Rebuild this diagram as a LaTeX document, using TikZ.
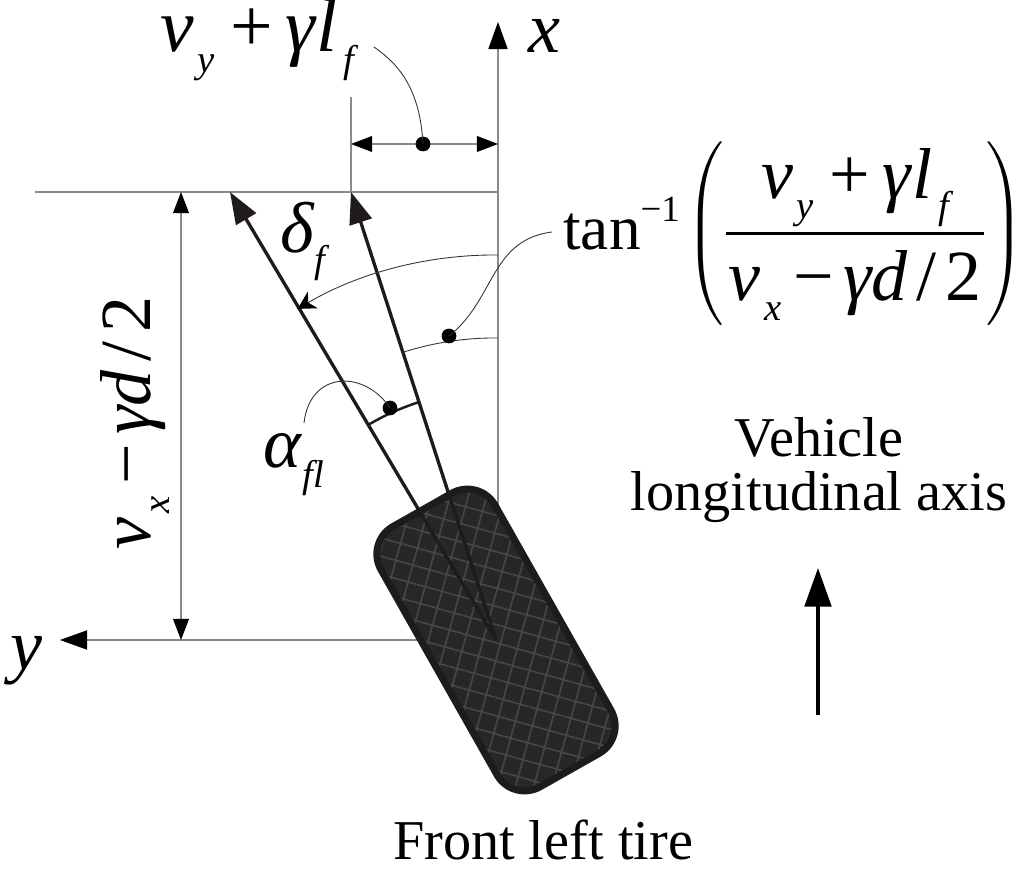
\documentclass[tikz,border=0pt]{standalone}
\usepackage{amsmath}
\usepackage{xcolor}
\usepackage{fontspec}
\setmainfont{Liberation Serif}
\usepackage{tikz}
\usetikzlibrary{arrows.meta,patterns.meta}

\definecolor{thinline}{HTML}{8A8A8A}
\definecolor{inkline}{HTML}{1F1B1C}
\definecolor{tirefill}{HTML}{262827}
\definecolor{tiregrid}{HTML}{45474A}

\newcommand{\subtxt}[1]{\raisebox{-0.6ex}{\fontsize{22}{22}\selectfont\itshape #1}}
\newcommand{\vsum}{\textit{v}\kern2pt\subtxt{y}\kern9pt+\kern7pt\textit{γ\kern1pt l}\kern3pt\subtxt{f}}
\newcommand{\vdiff}{\textit{v}\kern2pt\subtxt{x}\kern7pt−\kern5pt\textit{γd}\kern5pt/\kern5pt2}

\tikzset{
    thinpart/.style={thinline,line width=0.7pt},
    leader/.style={black!80,line width=0.5pt},
    thickarrow/.style={inkline,line width=1.9pt,-{Triangle[length=18pt,width=13pt]}},
    axisarrow/.style={thinpart,-{Triangle[length=15.5pt,width=11pt,black]}},
    dimarrow/.style={thinpart,{Triangle[length=12pt,width=9pt,black]}-{Triangle[length=12pt,width=9pt,black]}},
    label/.style={inner sep=0pt,font=\fontsize{32}{31}\selectfont},
    biglabel/.style={inner sep=0pt,font=\fontsize{41}{41}\selectfont},
    tirebox/.style={draw=inkline,line width=4pt,rounded corners=18pt,rotate=29.5,minimum width=2.62cm,minimum height=5.98cm,
        preaction={fill=tirefill},pattern={Hatch[angle=74.5,distance=10pt,line width=0.9pt]},pattern color=tiregrid},
}

\begin{document}
\begin{tikzpicture}
            \useasboundingbox (0,0) rectangle (20.48,17.4);

            \coordinate (tirecenter) at (9.92,4.6);
            \coordinate (topleft) at (0.7,13.56);
            \coordinate (topright) at (9.96,13.56);
            \coordinate (xbottom) at (9.96,7.3);
            \coordinate (xtip) at (9.96,16.96);
            \coordinate (ytip) at (1.2,4.6);
            \coordinate (yend) at (8.4,4.6);
            \coordinate (ticktop) at (7.02,15.46);
            \coordinate (headingtip) at (4.6,13.56);
            \coordinate (wheeltip) at (7.02,13.56);
            \coordinate (dimleft) at (7.02,14.52);
            \coordinate (dimright) at (9.96,14.52);
            \coordinate (dimtop) at (3.62,13.56);
            \coordinate (dimbottom) at (3.62,4.6);
            \coordinate (sumdot) at (8.46,14.52);
            \coordinate (tandot) at (8.98,10.68);
            \coordinate (alphadot) at (7.8,9.24);

            % axes and dimension lines
            \draw[thinpart] (topleft) -- (topright);
            \draw[axisarrow] (xbottom) -- (xtip);
            \draw[axisarrow] (yend) -- (ytip);
            \draw[thinpart] (ticktop) -- (wheeltip);
            \draw[dimarrow] (dimleft) -- (dimright);
            \draw[dimarrow] (dimtop) -- (dimbottom);

            % tire
            \node[tirebox] (tire) at (tirecenter) {};
            \draw[thickarrow] (tirecenter) -- (headingtip);
            \draw[thickarrow] (tirecenter) -- (wheeltip);

            % angle arcs
            \draw[leader,-{Stealth[length=10pt,width=11pt,inset=3pt,black]}] (9.96,12.3) arc[start angle=89.5,end angle=120.6,radius=7.74];
            \draw[leader] (9.96,10.64) arc[start angle=89.4,end angle=107.7,radius=6.04];
            \draw[inkline,line width=1.4pt] (7.36,8.9) arc[start angle=120.6,end angle=107.7,radius=5];

            % dots and leaders
            \filldraw[black] (sumdot) circle (0.14);
            \filldraw[black] (tandot) circle (0.14);
            \filldraw[black] (alphadot) circle (0.14);
            \draw[leader] (7.48,16.46) .. controls (8,16.1) and (8.4,15.6) .. (sumdot);
            \draw[leader] (tandot) .. controls (9.9,11.4) and (9.8,12.6) .. (11.04,12.76);
            \draw[leader] (6.08,8.94) .. controls (6.2,10) and (7.3,10) .. (alphadot);

            % labels
            \node[biglabel,anchor=base west] (xname) at (10.56,16.34) {\textit{x}};
            \node[biglabel,anchor=base west] (yname) at (0.2,4.0) {\textit{y}};
            \node[biglabel,anchor=base west,font=\fontsize{43}{43}\selectfont] (sumlabel) at (3.2,16.36) {\vsum};
            \node[biglabel,anchor=base west] (deltalabel) at (5.6,12.34) {\textit{δ}\subtxt{f}};
            \node[biglabel,anchor=base west] (alphalabel) at (5.26,8.04) {\textit{α}\subtxt{fl}};
            \node[biglabel,rotate=90] (difflabel) at (2.7,8.94) {\vdiff};
            \node[biglabel,anchor=base west,font=\fontsize{36}{36}\selectfont] (tanlabel) at (11.26,12.4) {tan\raisebox{0.45em}{\fontsize{21}{21}\selectfont −1}};
            \node[biglabel] (fraclabel) at (17.1,12.73) {$\left(\rule[-36pt]{0pt}{92pt}\genfrac{}{}{2pt}{}{\mbox{\vsum}\rule[-17pt]{0pt}{10pt}}{\rule{0pt}{35pt}\makebox[147pt]{\vdiff}}\right)$};
            \node[label,align=center] (axislabel) at (16.38,8.0) {Vehicle\\longitudinal axis};
            \node[label] (tirelabel) at (10.86,0.6) {Front left tire};

            % direction of travel
            \coordinate (travelstart) at (16.36,3.1);
            \coordinate (travelend) at (16.36,6.04);
            \draw[black,line width=2.4pt,-{Triangle[length=22pt,width=15pt]}] (travelstart) -- (travelend);
        \end{tikzpicture}
\end{document}
